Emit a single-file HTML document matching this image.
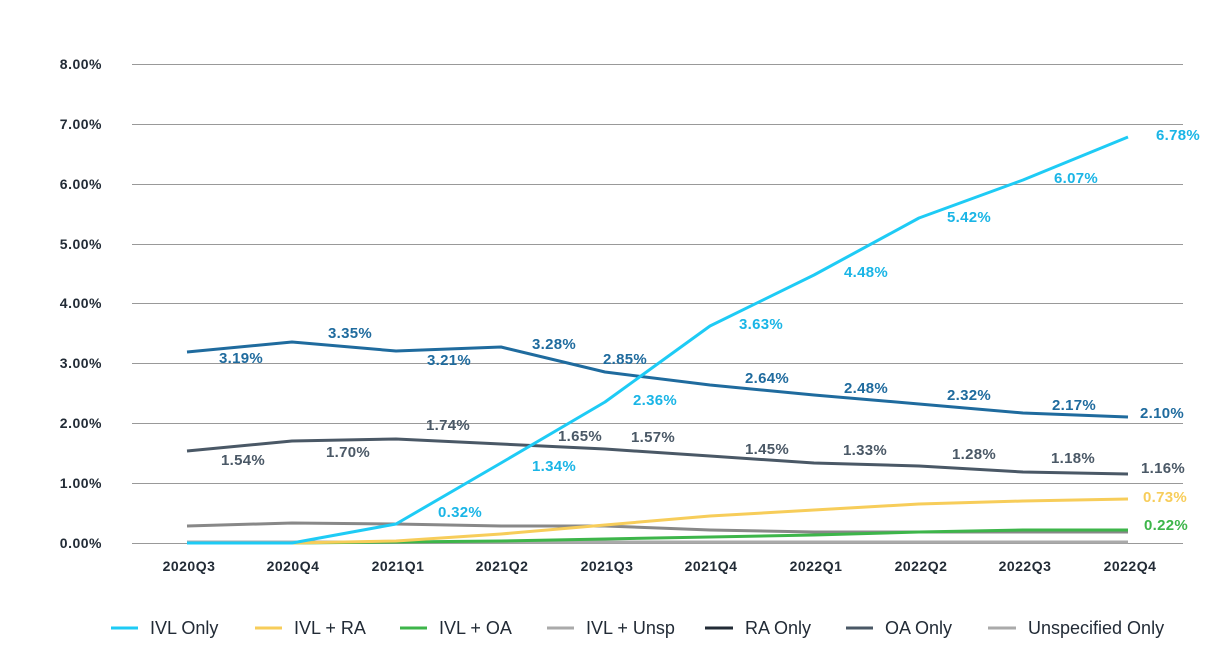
<!DOCTYPE html><html><head><style>body{margin:0;background:#fff}svg{display:block}text{font-family:"Liberation Sans",sans-serif}</style></head><body>
<svg width="1219" height="663" viewBox="0 0 1219 663">
<g stroke="#999" stroke-width="1">
<line x1="132" x2="1183" y1="64.5" y2="64.5"/><line x1="132" x2="1183" y1="124.5" y2="124.5"/><line x1="132" x2="1183" y1="184.5" y2="184.5"/><line x1="132" x2="1183" y1="244.5" y2="244.5"/><line x1="132" x2="1183" y1="303.5" y2="303.5"/><line x1="132" x2="1183" y1="363.5" y2="363.5"/><line x1="132" x2="1183" y1="423.5" y2="423.5"/><line x1="132" x2="1183" y1="483.5" y2="483.5"/><line x1="132" x2="1183" y1="543.5" y2="543.5"/>
</g>
<g font-size="14" font-weight="bold" fill="#222b36" text-anchor="end" letter-spacing="0.5">
<text x="102" y="69">8.00%</text><text x="102" y="129">7.00%</text><text x="102" y="189">6.00%</text><text x="102" y="249">5.00%</text><text x="102" y="308">4.00%</text><text x="102" y="368">3.00%</text><text x="102" y="428">2.00%</text><text x="102" y="488">1.00%</text><text x="102" y="548">0.00%</text>
</g>
<g font-size="14" font-weight="bold" fill="#222b36" text-anchor="middle" letter-spacing="0.5">
<text x="189" y="571">2020Q3</text><text x="293" y="571">2020Q4</text><text x="398" y="571">2021Q1</text><text x="502" y="571">2021Q2</text><text x="607" y="571">2021Q3</text><text x="711" y="571">2021Q4</text><text x="816" y="571">2022Q1</text><text x="921" y="571">2022Q2</text><text x="1025" y="571">2022Q3</text><text x="1130" y="571">2022Q4</text>
</g>
<g fill="none" stroke-width="3" stroke-linejoin="round">
<polyline stroke="#aaaaaa" points="187,542 1128,542"/>
<polyline stroke="#888" points="187,526 292,523 396,524 501,526 605,526 710,530 814,532 919,532 1023,532 1128,532"/>
<polyline stroke="#3db54a" points="187,543 292,543 396,542 501,541 605,539 710,537 814,535 919,532 1023,530 1128,530"/>
<polyline stroke="#f7cd5a" points="187,543 292,543 396,541 501,534 605,525 710,516 814,510 919,504 1023,501 1128,499"/>
<polyline stroke="#4a5866" points="187,451 292,441 396,439 501,444 605,449 710,456 814,463 919,466 1023,472 1128,474"/>
<polyline stroke="#1f6b9e" points="187,352 292,342 396,351 501,347 605,372 710,385 814,395 919,404 1023,413 1128,417"/>
<polyline stroke="#1ecbf5" points="187,543 292,543 396,524 501,463 605,402 710,326 814,275 919,218 1023,180 1128,137"/>
</g>
<g font-size="15" font-weight="bold" text-anchor="middle" letter-spacing="0.3">
<g fill="#1ab5e6"><text x="460" y="517">0.32%</text><text x="554" y="471">1.34%</text><text x="655" y="405">2.36%</text><text x="761" y="329">3.63%</text><text x="866" y="277">4.48%</text><text x="969" y="222">5.42%</text><text x="1076" y="183">6.07%</text><text x="1178" y="140">6.78%</text></g>
<g fill="#1f6b9e"><text x="241" y="363">3.19%</text><text x="350" y="338">3.35%</text><text x="449" y="365">3.21%</text><text x="554" y="349">3.28%</text><text x="625" y="364">2.85%</text><text x="767" y="383">2.64%</text><text x="866" y="393">2.48%</text><text x="969" y="400">2.32%</text><text x="1074" y="410">2.17%</text><text x="1162" y="418">2.10%</text></g>
<g fill="#4a5866"><text x="243" y="465">1.54%</text><text x="348" y="457">1.70%</text><text x="448" y="430">1.74%</text><text x="580" y="441">1.65%</text><text x="653" y="442">1.57%</text><text x="767" y="454">1.45%</text><text x="865" y="455">1.33%</text><text x="974" y="459">1.28%</text><text x="1073" y="463">1.18%</text><text x="1163" y="473">1.16%</text></g>
<text x="1165" y="502" fill="#f7cd5a">0.73%</text><text x="1166" y="530" fill="#3db54a">0.22%</text>
</g>
<g stroke-width="3">
<line x1="111" x2="138" y1="628" y2="628" stroke="#1ecbf5"/><line x1="255" x2="282" y1="628" y2="628" stroke="#f7cd5a"/><line x1="400" x2="427" y1="628" y2="628" stroke="#3db54a"/><line x1="547" x2="574" y1="628" y2="628" stroke="#aaa"/><line x1="705" x2="733" y1="628" y2="628" stroke="#222b36"/><line x1="846" x2="873" y1="628" y2="628" stroke="#4a5866"/><line x1="988" x2="1016" y1="628" y2="628" stroke="#aaa"/>
</g>
<g font-size="18" fill="#222b36">
<text x="150" y="634">IVL Only</text><text x="294" y="634">IVL + RA</text><text x="439" y="634">IVL + OA</text><text x="586" y="634">IVL + Unsp</text><text x="745" y="634">RA Only</text><text x="885" y="634">OA Only</text><text x="1028" y="634">Unspecified Only</text>
</g>
</svg></body></html>
